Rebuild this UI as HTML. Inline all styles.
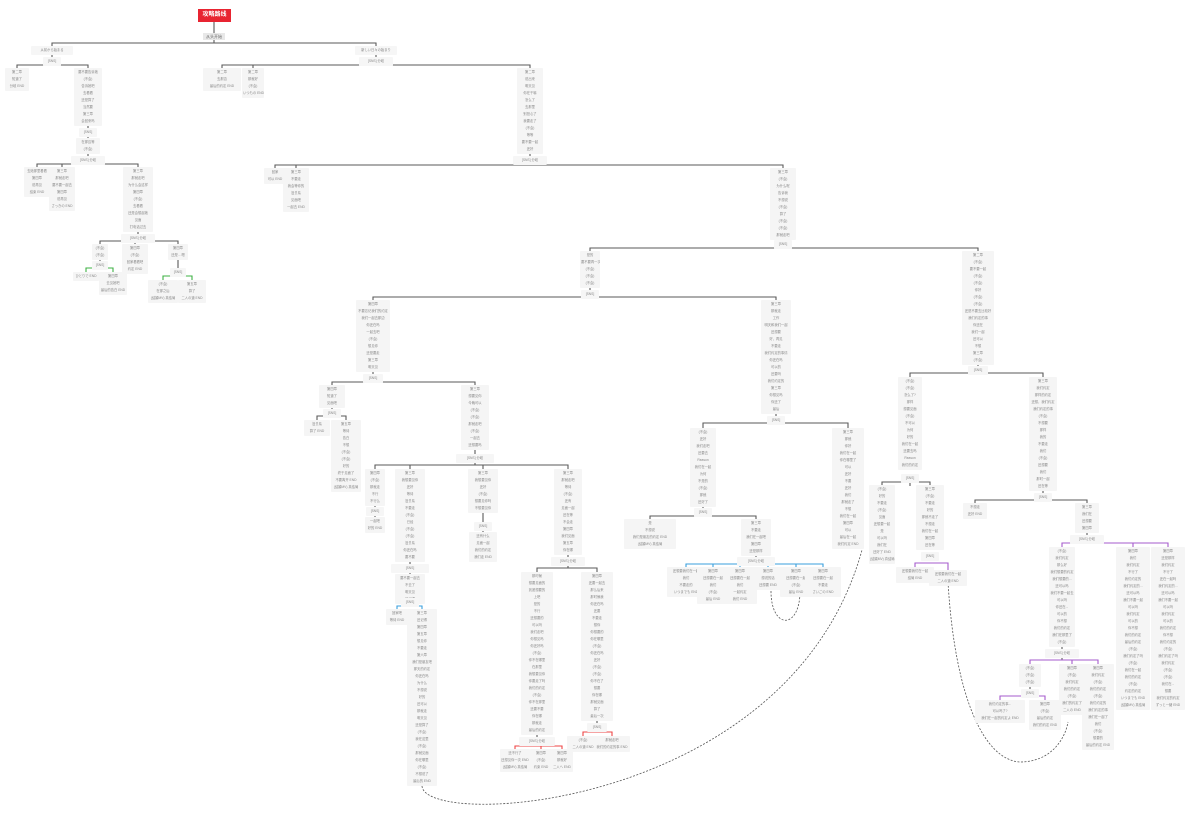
<!DOCTYPE html>
<html><head><meta charset="utf-8"><style>
html,body{margin:0;padding:0;background:#fff;}
body{width:1192px;height:817px;position:relative;overflow:hidden;font-family:"Liberation Sans","Noto Sans CJK JP",sans-serif;}
.c{position:absolute;transform:translateX(-50%);background:#f5f5f5;color:#888;font-size:3.3px;line-height:7px;text-align:center;white-space:nowrap;padding:1px 1px;border-radius:1px;overflow:hidden;}
.l{background:#f6f6f6;}
svg{position:absolute;left:0;top:0;}
#t{position:absolute;left:198px;top:9px;width:33px;height:13px;background:#e82431;color:#fff;font-weight:bold;font-size:6px;line-height:13px;text-align:center;}
#s{position:absolute;left:203px;top:33px;width:22px;height:7px;background:#e8e8e8;color:#666;font-size:4px;line-height:7px;text-align:center;}
</style></head><body>
<svg width="1192" height="817" fill="none" stroke="#5a5a5a" stroke-width="1.1">
<path d="M214 22V33M214 40V43M52 46V43H376V46M52 54V57M52 64V65M17 68V65H88V68M88 124V128M88 135V138M88 152V156M88 163V164M37 167V164H138V167M62 164V167M138 232V234M138 241V241M100 244V241H178V244M135 241V244"/>
<path d="M100 259V261M100 268V268M178 259V268M178 275V276"/>
<path d="M376 54V57M376 64V65M222 68V65H530V68M253 65V68M530 154V156M530 163V165M275 168V165H783V168M296 165V168M783 240V240M783 247V248M590 251V248H978V251M590 288V290M590 297V297M373 300V297H776V300"/>
<path d="M373 372V374M373 381V382M332 385V382H475V385M332 408V409M332 416V416M317 420V416H346V420M475 450V454M475 461V465M375 469V465H568V469M410 465V469M483 465V469"/>
<path d="M375 506V507M375 514V517M410 562V564M410 571V574M410 597V598M483 513V522M483 529V532M568 555V557M568 564V568M537 572V568H597V572M537 735V737M597 721V723"/>
<path d="M776 414V416M776 423V423M703 428V423H848V428M703 507V508M703 515V516M650 519V516H756V519M756 556V557M756 564V564"/>
<path d="M978 365V366M978 373V373M910 377V373H1043V377M910 477V479M910 486V482M882 485V482H930V485M930 557V556M1043 491V493M1043 500V500M975 503V500H1087V503M1087 533V535M1087 542V543M1062 647V649M1062 656V660M1030 685V689M1030 696V696"/>
<path stroke="#3cb043" d="M86 272V268H113V272M163 280V276H192V280"/>
<path stroke="#3a9fdc" d="M397 609V606H422V609M686 567V564H823V567M713 564V567M740 564V567M768 564V567M796 564V567"/>
<path stroke="#a55bcc" d="M915 567V563H948V570M1062 547V543H1168V547M1133 543V547M1030 664V660H1098V664M1072 660V664M1000 700V696H1045V700"/>
<path stroke="#ee4444" d="M515 749V746H562V749M541 746V749M583 736V732H612V736"/>
<path stroke="#555" stroke-width="0.8" stroke-dasharray="2,1.5" d="M422 786C425 830 790 810 862 550M771 591C771 630 800 630 800 591M948 582C955 700 985 760 1020 762C1050 762 1065 740 1068 722"/>
</svg>
<div id="t">攻略路线</div>
<div id="s">从头开始</div>

<div class="c l" style="left:52px;top:46px;width:40px">从前から始まる</div>
<div class="c l" style="left:52px;top:57px;width:16px">[SNS]</div>
<div class="c" style="left:17px;top:68px;width:22px">第二章<br>知道了<br>分岐 END</div>
<div class="c" style="left:88px;top:68px;width:26px">要不要告诉她<br>(不会)<br>告诉她吧<br>去看看<br>还是算了<br>当然要<br>第三章<br>会回来吗</div>
<div class="c l" style="left:88px;top:128px;width:16px">[SNS]</div>
<div class="c" style="left:88px;top:138px;width:22px">在那边等<br>(不会)</div>
<div class="c l" style="left:88px;top:156px;width:32px">[SNS] 分岐</div>
<div class="c" style="left:37px;top:167px;width:24px">去她那里看看<br>第四章<br>说再见<br>结束 END</div>
<div class="c" style="left:62px;top:167px;width:24px">第三章<br>那就走吧<br>要不要一起去<br>第四章<br>说再见<br>さっきの END</div>
<div class="c" style="left:138px;top:167px;width:28px">第三章<br>那就走吧<br>为什么会这样<br>第四章<br>(不会)<br>去看看<br>还是会想起她<br>见面<br>打电话过去</div>
<div class="c l" style="left:138px;top:234px;width:32px">[SNS] 分岐</div>
<div class="c" style="left:100px;top:244px;width:14px">(不会)<br>(不会)</div>
<div class="c l" style="left:100px;top:261px;width:14px">[SNS]</div>
<div class="c" style="left:86px;top:272px;width:24px">ひとりで END</div>
<div class="c" style="left:113px;top:272px;width:26px">第四章<br>去见她吧<br>最后的告白 END</div>
<div class="c" style="left:135px;top:244px;width:24px">第四章<br>(不会)<br>回家看看吧<br>约定 END</div>
<div class="c" style="left:178px;top:244px;width:18px">第四章<br>还是... 嗯</div>
<div class="c l" style="left:178px;top:268px;width:14px">[SNS]</div>
<div class="c" style="left:163px;top:280px;width:28px">(不会)<br>在那之后<br>(结婚MV) 真结局</div>
<div class="c" style="left:192px;top:280px;width:26px">第五章<br>算了<br>二人の道 END</div>

<div class="c l" style="left:376px;top:46px;width:40px">新しい日々の始まり</div>
<div class="c l" style="left:376px;top:57px;width:32px">[SNS] 分岐</div>
<div class="c" style="left:222px;top:68px;width:36px">第二章<br>去那边<br>最后的约定 END</div>
<div class="c" style="left:253px;top:68px;width:20px">第二章<br>那就好<br>(不会)<br>いつもの END</div>
<div class="c" style="left:530px;top:68px;width:24px">第二章<br>说出来<br>明天见<br>你在干嘛<br>怎么了<br>去那里<br>别担心了<br>我要走了<br>(不会)<br>等等<br>要不要一起<br>还好</div>
<div class="c l" style="left:530px;top:156px;width:32px">[SNS] 分岐</div>
<div class="c" style="left:275px;top:168px;width:20px">回家<br>可以 END</div>
<div class="c" style="left:296px;top:168px;width:24px">第三章<br>不要走<br>我会等你的<br>没关系<br>见面吧<br>一起去 END</div>
<div class="c" style="left:783px;top:168px;width:24px">第三章<br>(不会)<br>为什么呢<br>告诉我<br>不想说<br>(不会)<br>算了<br>(不会)<br>(不会)<br>那就走吧</div>
<div class="c l" style="left:783px;top:240px;width:16px">[SNS]</div>
<div class="c" style="left:590px;top:251px;width:18px">是的<br>要不要再一次<br>(不会)<br>(不会)<br>(不会)</div>
<div class="c l" style="left:590px;top:290px;width:16px">[SNS]</div>
<div class="c" style="left:373px;top:300px;width:32px">第四章<br>不要忘记我们的约定<br>我们一起去那边<br>你还在吗<br>一起去吧<br>(不会)<br>想见你<br>还是要走<br>第三章<br>明天见</div>
<div class="c l" style="left:373px;top:374px;width:18px">[SNS]</div>
<div class="c" style="left:332px;top:385px;width:24px">第四章<br>知道了<br>见面吧</div>
<div class="c l" style="left:332px;top:409px;width:16px">[SNS]</div>
<div class="c" style="left:317px;top:420px;width:24px">没关系<br>算了 END</div>
<div class="c" style="left:346px;top:420px;width:28px">第五章<br>等待<br>告白<br>不想<br>(不会)<br>(不会)<br>好的<br>终于见面了<br>不要离开 END<br>(结婚MV) 真结局</div>
<div class="c" style="left:475px;top:385px;width:26px">第三章<br>想要见你<br>今晚可以<br>(不会)<br>(不会)<br>那就走吧<br>(不会)<br>一起去<br>还想要吗</div>
<div class="c l" style="left:475px;top:454px;width:36px">[SNS] 分岐</div>
<div class="c" style="left:375px;top:469px;width:18px">第四章<br>(不会)<br>那就走<br>不行<br>不行么</div>
<div class="c l" style="left:375px;top:507px;width:16px">[SNS]</div>
<div class="c" style="left:375px;top:517px;width:18px">一起吧<br>好的 END</div>
<div class="c" style="left:410px;top:469px;width:28px">第三章<br>我想要见你<br>还好<br>等待<br>没关系<br>不要走<br>(不会)<br>已经<br>(不会)<br>(不会)<br>没关系<br>你还在吗<br>要不要</div>
<div class="c l" style="left:410px;top:564px;width:36px">[SNS]</div>
<div class="c" style="left:410px;top:574px;width:28px">要不要一起去<br>不去了<br>明天见<br>还记得</div>
<div class="c l" style="left:410px;top:598px;width:16px">[SNS]</div>
<div class="c" style="left:397px;top:609px;width:20px">回家吧<br>等待 END</div>
<div class="c" style="left:422px;top:609px;width:28px">第三章<br>还记得<br>第四章<br>第五章<br>想见你<br>不要走<br>第六章<br>我们是朋友吧<br>那天的约定<br>你还在吗<br>为什么<br>不想说<br>好的<br>还可以<br>那就走<br>明天见<br>还是算了<br>(不会)<br>我在这里<br>(不会)<br>那就见面<br>你在哪里<br>(不会)<br>不想说了<br>最后的 END</div>
<div class="c" style="left:483px;top:469px;width:28px">第三章<br>我想要见你<br>还好<br>(不会)<br>想要见你吗<br>不想要见你</div>
<div class="c l" style="left:483px;top:522px;width:16px">[SNS]</div>
<div class="c" style="left:483px;top:532px;width:26px">还有什么<br>见面一起<br>我们的约定<br>我们走 END</div>
<div class="c" style="left:568px;top:469px;width:26px">第三章<br>那就走吧<br>等待<br>(不会)<br>还有<br>见面一起<br>还在等<br>不会走<br>第四章<br>我们见面<br>第五章<br>你在哪</div>
<div class="c l" style="left:568px;top:557px;width:32px">[SNS] 分岐</div>
<div class="c" style="left:537px;top:572px;width:30px">那时候<br>想要见面的<br>到底想要的<br>上吧<br>是的<br>不行<br>还想要的<br>可以吗<br>我们走吧<br>你想见吗<br>你还好吗<br>(不会)<br>你不在哪里<br>在那里<br>我想要见你<br>你要走了吗<br>我们的约定<br>(不会)<br>你不在那里<br>还要不要<br>你在哪<br>那就走<br>最后的约定</div>
<div class="c l" style="left:537px;top:737px;width:34px">[SNS] 分岐</div>
<div class="c" style="left:515px;top:749px;width:28px">还不行了<br>还想见你一次 END<br>(结婚MV) 真结局</div>
<div class="c" style="left:541px;top:749px;width:20px">第四章<br>(不会)<br>约束 END</div>
<div class="c" style="left:562px;top:749px;width:20px">第四章<br>那就好<br>二人へ END</div>
<div class="c" style="left:597px;top:572px;width:30px">第四章<br>还要一起去<br>那么后来<br>那时候我<br>你还在吗<br>还要<br>不要走<br>想你<br>你想要的<br>你在哪里<br>(不会)<br>你还在吗<br>还好<br>(不会)<br>(不会)<br>你不在了<br>想要<br>你在哪<br>那就见面<br>算了<br>最后一次</div>
<div class="c l" style="left:597px;top:723px;width:18px">[SNS]</div>
<div class="c" style="left:583px;top:736px;width:30px">(不会)<br>二人の道 END</div>
<div class="c" style="left:612px;top:736px;width:34px">那就走吧<br>我们的约定的事 END</div>

<div class="c" style="left:776px;top:300px;width:28px">第三章<br>那就走<br>工作<br>明天和我们一起<br>还想要<br>好，再见<br>不要走<br>我们约定的事情<br>你还在吗<br>可以的<br>还要吗<br>我们约定的<br>第三章<br>你想见吗<br>你还了<br>最后</div>
<div class="c l" style="left:776px;top:416px;width:16px">[SNS]</div>
<div class="c" style="left:703px;top:428px;width:24px">(不会)<br>还好<br>我们走吧<br>还要去<br>Reason<br>我们在一起<br>为何<br>不是的<br>(不会)<br>那就<br>还好了</div>
<div class="c l" style="left:703px;top:508px;width:16px">[SNS]</div>
<div class="c" style="left:650px;top:519px;width:50px">是<br>不想说<br>我们是朋友的约定 END<br>(结婚MV) 真结局</div>
<div class="c" style="left:756px;top:519px;width:28px">第三章<br>不要走<br>我们在一起吧<br>第四章<br>还是那样</div>
<div class="c l" style="left:756px;top:557px;width:36px">[SNS] 分岐</div>
<div class="c" style="left:686px;top:567px;width:36px">还想要我们在一起<br>我们<br>不要走的<br>いつまでも END</div>
<div class="c" style="left:713px;top:567px;width:30px">第四章<br>还想要在一起<br>我们<br>(不会)<br>最后 END</div>
<div class="c" style="left:740px;top:567px;width:32px">第四章<br>还想要在一起<br>我们<br>一起约定<br>我们 END</div>
<div class="c" style="left:768px;top:567px;width:34px">第四章<br>想说的话<br>还想要 END</div>
<div class="c" style="left:796px;top:567px;width:30px">第四章<br>还想要在一起<br>(不会)<br>最后 END</div>
<div class="c" style="left:823px;top:567px;width:34px">第四章<br>还想要在一起<br>不要走<br>さいごの END</div>
<div class="c" style="left:848px;top:428px;width:30px">第三章<br>那就<br>你好<br>我们在一起<br>你在哪里了<br>可以<br>还好<br>不要<br>还好<br>我们<br>那就走了<br>不想<br>我们在一起<br>第四章<br>可以<br>最后在一起<br>我们约定 END</div>

<div class="c" style="left:978px;top:251px;width:30px">第二章<br>(不会)<br>要不要一起<br>(不会)<br>(不会)<br>你好<br>(不会)<br>(不会)<br>还是不要去比较好<br>我们约定的事<br>你还在<br>我们一起<br>还可以<br>不想<br>第三章<br>(不会)</div>
<div class="c l" style="left:978px;top:366px;width:18px">[SNS]</div>
<div class="c" style="left:910px;top:377px;width:22px">(不会)<br>(不会)<br>怎么了?<br>那样<br>想要见面<br>(不会)<br>不可以<br>为何<br>好的<br>我们在一起<br>还要去吗<br>Reason<br>我们的约定</div>
<div class="c l" style="left:910px;top:474px;width:16px">[SNS]</div>
<div class="c" style="left:882px;top:485px;width:24px">(不会)<br>好的<br>不要走<br>(不会)<br>见面<br>还想要一起<br>是<br>可以吗<br>我们在<br>还好了 END<br>(结婚MV) 真结局</div>
<div class="c" style="left:930px;top:485px;width:26px">第三章<br>(不会)<br>不要走<br>好的<br>那就不走了<br>不想走<br>我们在一起<br>第四章<br>还在等</div>
<div class="c l" style="left:930px;top:552px;width:16px">[SNS]</div>
<div class="c" style="left:915px;top:567px;width:36px">还想要我们在一起<br>结局 END</div>
<div class="c" style="left:948px;top:570px;width:36px">还想要我们在一起<br>二人の道 END</div>
<div class="c" style="left:1043px;top:377px;width:26px">第三章<br>我们约定<br>那样的约定<br>还想，我们约定<br>我们约定的事<br>(不会)<br>不想要<br>那样<br>我的<br>不要走<br>我们<br>(不会)<br>还想要<br>我们<br>那时一起<br>还在等</div>
<div class="c l" style="left:1043px;top:493px;width:16px">[SNS]</div>
<div class="c" style="left:975px;top:503px;width:22px">不想走<br>还好 END</div>
<div class="c" style="left:1087px;top:503px;width:22px">第三章<br>我们在<br>还想要<br>第四章</div>
<div class="c l" style="left:1087px;top:535px;width:32px">[SNS] 分岐</div>
<div class="c" style="left:1062px;top:547px;width:24px">(不会)<br>我们约定<br>那么好<br>我们想要的约定<br>我们想要的...<br>还可以吗<br>我们不要一起去<br>可以吗<br>你还在...<br>可以的<br>你不想<br>我们的约定<br>我们在那里了<br>(不会)</div>
<div class="c l" style="left:1062px;top:649px;width:32px">[SNS] 分岐</div>
<div class="c" style="left:1030px;top:664px;width:20px">(不会)<br>(不会)<br>(不会)</div>
<div class="c l" style="left:1030px;top:689px;width:16px">[SNS]</div>
<div class="c" style="left:1000px;top:700px;width:48px">我们约定的事...<br>可以吗了?<br>我们在一起的约定よ END</div>
<div class="c" style="left:1045px;top:700px;width:30px">第四章<br>(不会)<br>最后的约定<br>我们的约定 END</div>
<div class="c" style="left:1072px;top:664px;width:24px">第四章<br>(不会)<br>我们约定<br>我们的约定<br>(不会)<br>我们的约定了<br>二人の END</div>
<div class="c" style="left:1098px;top:664px;width:30px">第四章<br>我们约定<br>(不会)<br>我们的约定<br>(不会)<br>我们约定的<br>我们约定的事<br>我们在一起了<br>我们<br>(不会)<br>想要的<br>最后的约定 END</div>
<div class="c" style="left:1133px;top:547px;width:32px">第四章<br>我们<br>我们约定<br>不行了<br>我们约定的<br>我们约定的...<br>还可以吗<br>我们不要一起<br>可以吗<br>我们约定<br>可以的<br>你不想<br>我们的约定<br>最后的约定<br>(不会)<br>我们约定了吗<br>(不会)<br>我们在一起<br>我们的约定<br>(不会)<br>约定的约定<br>いつまでも END<br>(结婚MV) 真结局</div>
<div class="c" style="left:1168px;top:547px;width:32px">第四章<br>还是那样<br>我们约定<br>不行了<br>还在一起吗<br>我们约定的...<br>还可以吗<br>我们不要一起<br>可以吗<br>我们约定<br>可以的<br>我们的约定<br>你不想<br>我们约定的<br>(不会)<br>我们约定了吗<br>我们约定<br>(不会)<br>(不会)<br>我们在...<br>想要<br>我们约定的约定<br>ずっと一緒 END</div>
</body></html>
